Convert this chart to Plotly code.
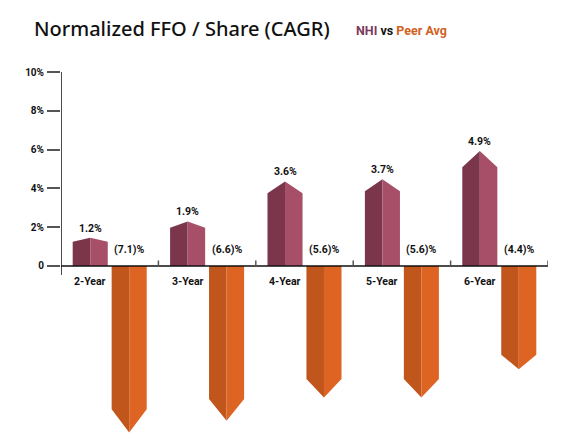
import plotly.graph_objects as go

categories = ["2-Year", "3-Year", "4-Year", "5-Year", "6-Year"]
nhi_values = [1.2, 1.9, 3.6, 3.7, 4.9]
peer_values = [-7.1, -6.6, -5.6, -5.6, -4.4]
nhi_labels = ["1.2%", "1.9%", "3.6%", "3.7%", "4.9%"]
peer_labels = ["(7.1)%", "(6.6)%", "(5.6)%", "(5.6)%", "(4.4)%"]
y_ticks = [0, 2, 4, 6, 8, 10]
y_ticktext = ["0", "2%", "4%", "6%", "8%", "10%"]

NHI_DARK, NHI_LIGHT = "#7b364b", "#a74f68"
PEER_DARK, PEER_LIGHT = "#c0561b", "#dd6423"
COND = "Roboto, sans-serif"

W, H = 563, 444
L, R, T, B = 61, 15, 60, 0

half = 0.18      # half bar width (category units)
offset = 0.2     # distance of bar centre from category centre
shoulder = 1.04  # the artwork draws bars a touch taller than the axis
tip = 1.21       # pointed end of the prism


def prism(centres, values):
    # two faces for every bar, polygons separated by None
    lx, ly, rx, ry = [], [], [], []
    for c, v in zip(centres, values):
        s, t = v * shoulder, v * tip
        lx += [c - half, c - half, c, c, c - half, None]
        ly += [0, s, t, 0, 0, None]
        rx += [c, c, c + half, c + half, c, None]
        ry += [0, t, s, 0, 0, None]
    return lx, ly, rx, ry


def px(x):
    return (x - L) / (W - L - R)


def py(y):
    return (H - B - y) / (H - T - B)


centres = [i + 0.5 for i in range(len(categories))]
nhi_x = [c - offset for c in centres]
peer_x = [c + offset for c in centres]

fig = go.Figure()
for xs, vals, dark, light in [(nhi_x, nhi_values, NHI_DARK, NHI_LIGHT),
                              (peer_x, peer_values, PEER_DARK, PEER_LIGHT)]:
    lx, ly, rx, ry = prism(xs, vals)
    fig.add_trace(go.Scatter(x=lx, y=ly, fill="toself", mode="lines",
                             line=dict(width=0), fillcolor=dark, hoverinfo="skip"))
    fig.add_trace(go.Scatter(x=rx, y=ry, fill="toself", mode="lines",
                             line=dict(width=0), fillcolor=light, hoverinfo="skip"))

lab = dict(family=COND, size=10.5, color="#111", weight="bold")
ann = []
for x, v, t in zip(nhi_x, nhi_values, nhi_labels):
    ann.append(dict(x=x, y=v * tip, text=t, showarrow=False, yanchor="bottom",
                    yshift=1, font=lab))
for x, t in zip(peer_x, peer_labels):
    ann.append(dict(x=x, y=0, text=t, showarrow=False, yanchor="middle", yshift=16, font=lab))
for x, t in zip(nhi_x, categories):
    ann.append(dict(x=x, y=0, text=t, showarrow=False, yanchor="middle", yshift=-16, font=lab))

ann.append(dict(xref="paper", yref="paper", x=px(32), y=py(29), xanchor="left",
                yanchor="middle", showarrow=False, text="Normalized FFO / Share (CAGR)",
                font=dict(family="Noto Sans", size=20, color="#111", weight=500)))
ann.append(dict(xref="paper", yref="paper", x=px(354), y=py(30), xanchor="left",
                yanchor="middle", showarrow=False,
                text="<span style='color:#7b3a5c'>NHI</span> vs "
                     "<span style='color:#d0621f'>Peer Avg</span>",
                font=dict(family=COND, size=12.5, color="#111", weight="bold")))

shapes = [
    dict(type="line", x0=0, x1=0, y0=-0.46, y1=10, line=dict(color="#111", width=1.5)),
    dict(type="line", x0=-0.12, x1=5, y0=0, y1=0, line=dict(color="#111", width=1.5)),
]
for b in range(1, len(categories) + 1):
    shapes.append(dict(type="line", x0=b, x1=b, y0=0, y1=0.28,
                       line=dict(color="#555", width=1.5)))

fig.update_layout(
    width=W, height=H,
    margin=dict(l=L, r=R, t=T, b=B),
    paper_bgcolor="white", plot_bgcolor="white",
    showlegend=False,
    annotations=ann, shapes=shapes,
    xaxis=dict(range=[0, 5], showgrid=False, zeroline=False, showline=False,
               showticklabels=False, fixedrange=True),
    yaxis=dict(range=[-9.18, 10.62], showgrid=False, zeroline=False, showline=False,
               tickvals=y_ticks, ticktext=y_ticktext, ticks="outside", ticklen=13,
               tickcolor="#555", tickwidth=1.5, ticklabelstandoff=1,
               tickfont=dict(family=COND, size=10, color="#111", weight="bold"),
               fixedrange=True),
)

fig.write_html("out.html", config={"displayModeBar": False},
               post_script="document.body.style.margin='0';")
